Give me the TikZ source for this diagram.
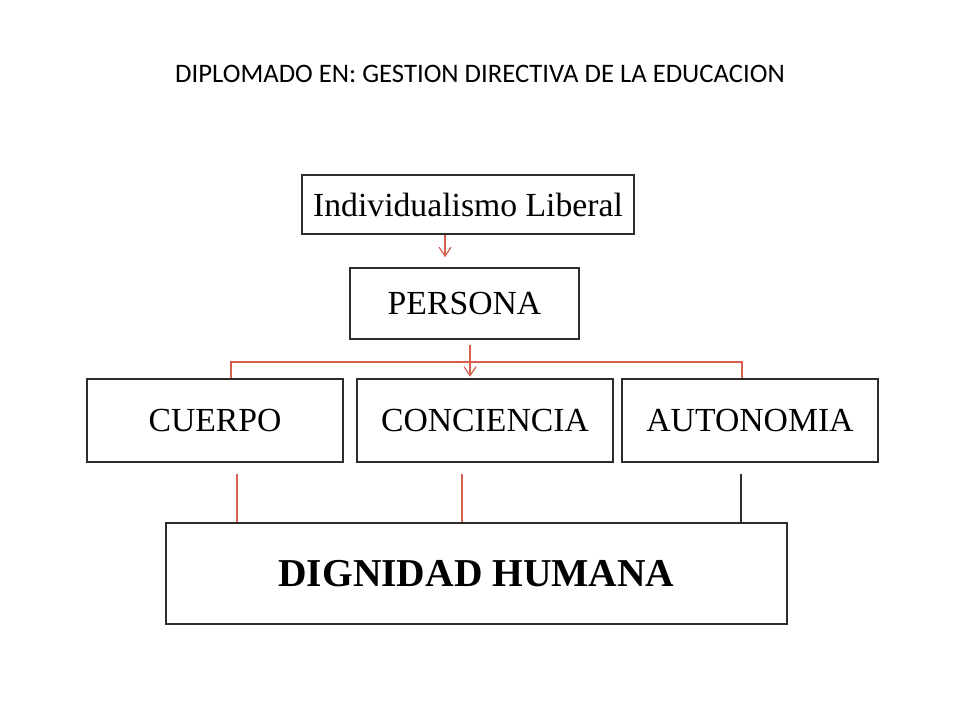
\documentclass[tikz,border=0pt]{standalone}
\usepackage{fontspec}
\setmainfont{Liberation Serif}
\newfontfamily\titlefont{Carlito}
\usetikzlibrary{arrows.meta}
\definecolor{boxline}{RGB}{45,45,45}
\definecolor{linkred}{RGB}{214,96,77}
\tikzset{
  box/.style={draw=boxline, line width=1.5pt, inner sep=0pt, font=\fontsize{33.7}{36}\selectfont},
  link/.style={draw=linkred, line width=1.2pt},
  blink/.style={draw=boxline, line width=1.2pt},
  arr/.style={link, -{Straight Barb[length=9pt,width=12pt,line width=1.2pt]}},
}
\begin{document}
\begin{tikzpicture}[x=1pt,y=-1pt]
\useasboundingbox (0,0) rectangle (960,720);
\node[font=\titlefont\fontsize{26.7}{30}\selectfont] (title) at (480,73.5) {DIPLOMADO EN: GESTION DIRECTIVA DE LA EDUCACION};
\node[box, minimum width=332pt, minimum height=59pt] (ind) at (468,204.5) {Individualismo Liberal};
\node[box, minimum width=229pt, minimum height=71pt] (per) at (464.5,303.5) {PERSONA};
\node[box, minimum width=256pt, minimum height=83pt] (cue) at (215,420.5) {CUERPO};
\node[box, minimum width=256pt, minimum height=83pt] (con) at (485,420.5) {CONCIENCIA};
\node[box, minimum width=256pt, minimum height=83pt] (aut) at (750,420.5) {AUTONOMIA};
\node[box, minimum width=621pt, minimum height=101pt, font=\fontsize{39.5}{42}\selectfont\bfseries] (dig) at (476.5,573.5) {DIGNIDAD HUMANA};
% arrows
\draw[arr, shorten >=10pt] (ind.south -| 445,0) -- (per.north -| 445,0);
\coordinate (hl) at (231,362);
\coordinate (hr) at (742,362);
\draw[link] (cue.north -| hl) -- (hl) -- (hr) -- (aut.north -| hr);
\draw[arr, shorten <=5pt, shorten >=1.5pt] (per.south -| 470,0) -- (con.north -| 470,0);
% bottom connectors
\draw[link, shorten <=11pt] (cue.south -| 237,0) -- (dig.north -| 237,0);
\draw[link, shorten <=11pt] (con.south -| 462,0) -- (dig.north -| 462,0);
\draw[blink, shorten <=11pt] (aut.south -| 741,0) -- (dig.north -| 741,0);
\end{tikzpicture}
\end{document}
